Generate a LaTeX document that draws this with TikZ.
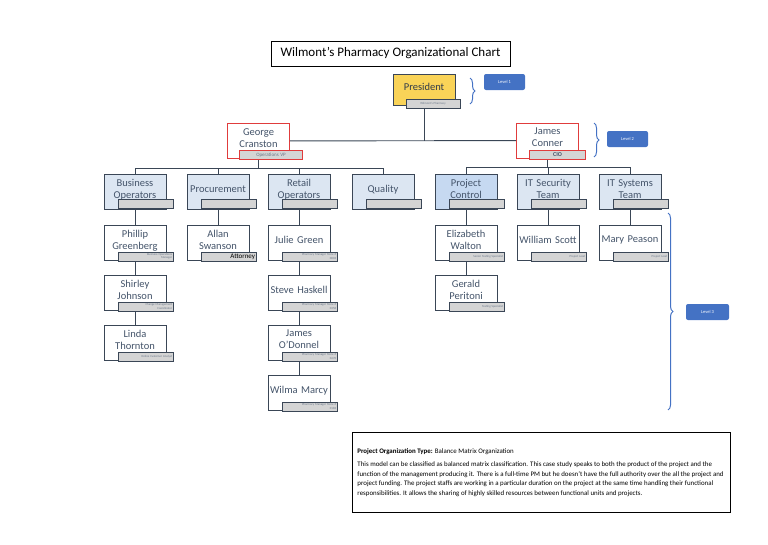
\documentclass[tikz,border=0pt]{standalone}
\usepackage{fontspec}
\setmainfont{Carlito}
\usepackage{xcolor}
\usetikzlibrary{positioning,decorations.pathreplacing}
\definecolor{namecol}{HTML}{44546A}
\definecolor{edgecol}{HTML}{3A4656}
\definecolor{deptfill}{HTML}{DCE6F2}
\definecolor{pcfill}{HTML}{C6D9F1}
\definecolor{tagfill}{HTML}{D4D4D4}
\definecolor{prezfill}{HTML}{F9D358}
\definecolor{vpred}{HTML}{E03C3C}
\definecolor{lvlblue}{HTML}{4472C4}
\tikzset{
  box/.style={draw=edgecol, line width=0.9pt, fill=white, minimum width=62pt, minimum height=35pt,
    inner sep=1pt, text width=60pt, align=center, font=\fontsize{10.5}{12}\selectfont, text=namecol},
  dept/.style={box, fill=deptfill},
  vp/.style={box, draw=vpred},
  tag/.style={draw=edgecol, line width=0.8pt, fill=tagfill, minimum width=55pt, minimum height=9pt,
    inner sep=0.5pt, text width=53pt, align=right, font=\fontsize{3}{3.3}\selectfont, text=namecol!80},
  level/.style={fill=lvlblue, rounded corners=2pt, minimum width=41pt, minimum height=16pt,
    font=\fontsize{4.5}{5}\selectfont, text=white},
  lvlbrace/.style={draw=lvlblue, line width=1pt, decorate, decoration={brace, amplitude=5pt}},
  link/.style={draw=edgecol, line width=0.9pt}
}
\newcommand{\storeno}{Pharmacy Manager Store \#}
\newcommand{\lift}{\\[-6pt]\mbox{}}
\begin{document}
\begin{tikzpicture}[x=1pt, y=-1pt]
  \useasboundingbox (0,0) rectangle (768,544);

  % title
  \node (title) [draw, line width=0.9pt, minimum width=239pt, minimum height=25pt,
    font=\fontsize{13}{14}\selectfont] at (390.5,53.5) {Wilmont’s Pharmacy Organizational Chart};

  % top levels
  \node (prez) [box, fill=prezfill, minimum height=31pt, text=namecol!70!black] at (424,89.5) {President\lift};
  \node (george) [vp] at (258.5,141) {George\\Cranston\lift};
  \node (james) [vp] at (547.5,140.5) {James\\Conner\lift};

  % departments
  \node (bo) [dept] at (135,192) {Business\\Operators\lift};
  \node (pr) [dept] at (218,192) {Procurement\lift};
  \node (ro) [dept] at (299,192) {Retail\\Operators\lift};
  \node (qu) [dept] at (383,192) {Quality\lift};
  \node (pc) [dept, fill=pcfill] at (466,192) {Project\\Control\lift};
  \node (its) [dept] at (548,192) {IT Security\\Team\lift};
  \node (ity) [dept] at (630,192) {IT Systems\\Team\lift};

  % staff
  \node (phillip) [box] at (135,242.5) {Phillip\\Greenberg\lift};
  \node (shirley) [box] at (135,292.5) {Shirley\\Johnson\lift};
  \node (linda) [box] at (135,342.5) {Linda\\Thornton\lift};
  \node (allan) [box] at (218,242.5) {Allan\\Swanson\lift};
  \node (julie) [box] at (299,242.5) {Julie Green\lift};
  \node (steve) [box] at (299,292.5) {Steve Haskell\lift};
  \node (jamesod) [box] at (299,342.5) {James\\O'Donnel\lift};
  \node (wilma) [box] at (299,392.5) {Wilma Marcy\lift};
  \node (eliz) [box] at (466,242.5) {Elizabeth\\Walton\lift};
  \node (gerald) [box] at (466,292.5) {Gerald\\Peritoni\lift};
  \node (william) [box] at (548,242.5) {William Scott\lift};
  \node (mary) [box] at (630,242.5) {Mary Peason\lift};

  % connectors
  \draw[link] (george) -- (james);
  \draw[link] (prez) -- (prez |- george.east);
  \foreach \d in {bo,pr,ro,qu}
    \draw[link] (george.south) -- ++(0,9) -| (\d.north);
  \foreach \d in {pc,its,ity}
    \draw[link] (james.south) -- ++(0,9) -| (\d.north);
  \draw[link] (bo) -- (phillip) -- (shirley) -- (linda);
  \draw[link] (pr) -- (allan);
  \draw[link] (ro) -- (julie) -- (steve) -- (jamesod) -- (wilma);
  \draw[link] (pc) -- (eliz) -- (gerald);
  \draw[link] (its) -- (william);
  \draw[link] (ity) -- (mary);

  % title tags
  \node (tprez) [tag, anchor=south east, minimum width=54pt, text width=52pt, align=center] at ([xshift=5pt,yshift=-3pt]prez.south east) {Wilmont's Pharmacy};
  \node (tgeorge) [tag, draw=vpred, fill=tagfill, minimum width=63pt, text width=61pt, align=center,
    font=\fontsize{5}{5}\selectfont] at ([xshift=13pt,yshift=-1pt]george.south east) [anchor=south east] {Operations VP};
  \node (tjames) [tag, draw=vpred, minimum width=56pt, text width=54pt, align=center,
    font=\fontsize{6}{6}\selectfont\bfseries, text=namecol] at ([xshift=7pt,yshift=-1pt]james.south east) [anchor=south east] {CIO};
  \foreach \d in {bo,pr,ro,qu,pc,its,ity}
    \node (t\d) [tag, anchor=south east] at ([xshift=7pt,yshift=1pt]\d.south east) {};
  \foreach \p/\t in {phillip/{Business Operations\\Manager}, shirley/{Change Management\\Coordinator},
      linda/{Online Customer Analyst}, julie/{\storeno\\0803},
      steve/{\storeno\\0358}, jamesod/{\storeno\\0470},
      wilma/{\storeno\\0183}, eliz/{Senior Testing Specialist},
      gerald/{Testing Specialist}, william/{Project Lead}, mary/{Project Lead}}
    \node (t\p) [tag, anchor=south east] at ([xshift=7pt,yshift=-1pt]\p.south east) {\t};
  \node (tallan) [tag, anchor=south east, font=\fontsize{7}{7}\selectfont, text=black] at ([xshift=7pt,yshift=-1pt]allan.south east) {Attorney};

  % level markers
  \coordinate (b1a) at (470,78);  \coordinate (b1b) at (470,104);
  \draw[lvlbrace] (b1a) -- (b1b);
  \node (lvl1) [level] at (504.5,82) {Level 1};
  \coordinate (b2a) at (594,123); \coordinate (b2b) at (594,157);
  \draw[lvlbrace] (b2a) -- (b2b);
  \node (lvl2) [level] at (627.5,139) {Level 2};
  \coordinate (b3a) at (668,213); \coordinate (b3b) at (668,410);
  \draw[lvlbrace] (b3a) -- (b3b);
  \node (lvl3) [level, minimum width=43pt] at (707.5,312) {Level 3};

  % description
  \node (desc) [draw, line width=0.9pt, anchor=north west, text width=368pt, minimum height=80pt,
    inner sep=5pt, align=flush left, font=\fontsize{6.9}{9.4}\selectfont] at (352,432)
    {\textbf{Project Organization Type:} Balance Matrix Organization\\[4pt]
     This model can be classified as balanced matrix classification. This case study speaks to both the product of the project and the function of the management producing it. There is a full-time PM but he doesn’t have the full authority over the all the project and project funding. The project staffs are working in a particular duration on the project at the same time handling their functional responsibilities.  It allows the sharing of highly skilled resources between functional units and projects.};
\end{tikzpicture}
\end{document}
